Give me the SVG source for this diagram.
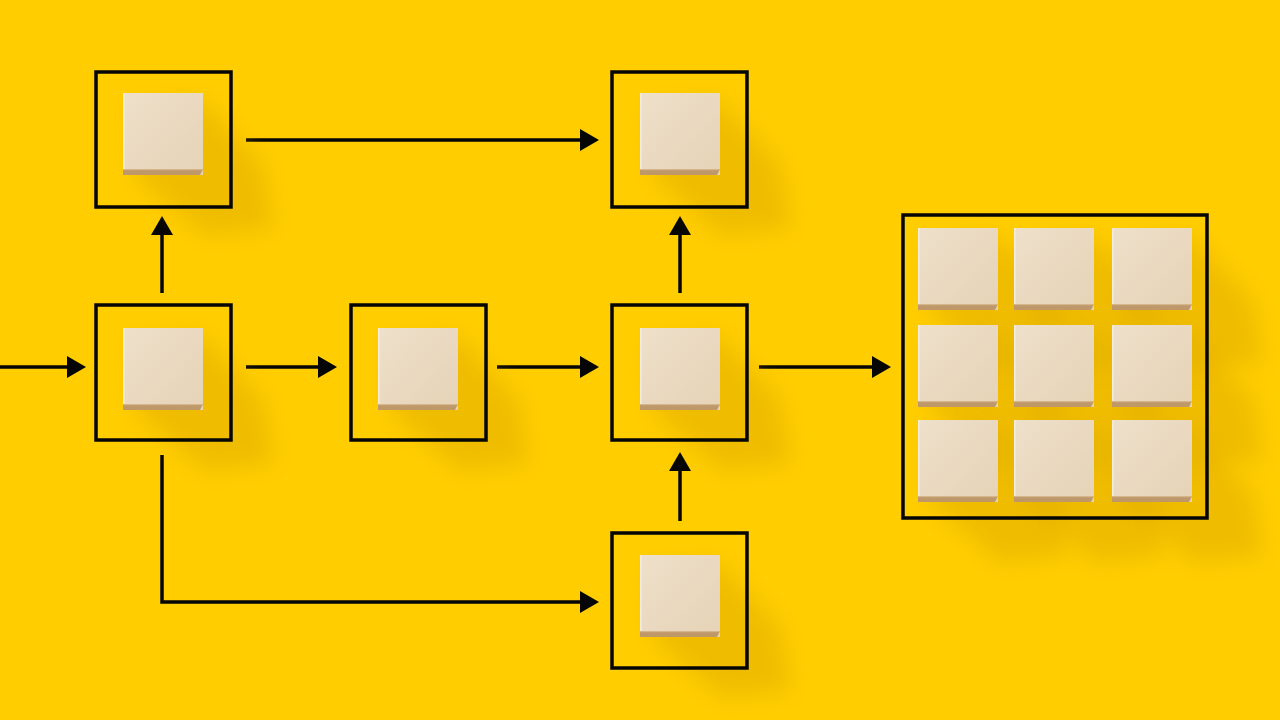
<svg xmlns="http://www.w3.org/2000/svg" xmlns:xlink="http://www.w3.org/1999/xlink" width="1280" height="720" viewBox="0 0 1280 720">
<defs>
<style>
.frame{fill:none;stroke:#050505;stroke-width:3.5}
.conn{fill:none;stroke:#050505;stroke-width:3.5}
.shadow{fill:#DCA800;opacity:0.45;filter:url(#blur)}
</style>
<filter id="blur" x="-50%" y="-50%" width="200%" height="200%"><feGaussianBlur stdDeviation="11"/></filter>
<linearGradient id="wood" x1="0" y1="0" x2="1" y2="1">
<stop offset="0" stop-color="#EEE0CA"/>
<stop offset="0.5" stop-color="#EAD9C0"/>
<stop offset="1" stop-color="#E6D3B7"/>
</linearGradient>
<marker id="ah" markerUnits="userSpaceOnUse" markerWidth="22" markerHeight="24" refX="0" refY="11" orient="auto" viewBox="0 0 22 22">
<path d="M0 0 L19 11 L0 22 Z" fill="#050505"/>
</marker>
<g id="block">
<path class="shadow" d="M10 14 L78 8 L140 72 L150 135 L82 142 L14 84 Z"/>
<rect x="0" y="0" width="80" height="82" fill="url(#wood)"/>
<rect x="0" y="0" width="1.5" height="82" fill="#F6EDDF"/>
<path d="M0 76 H80 L77 82 H0 Z" fill="#BE9868"/>
<rect x="0" y="76" width="80" height="1.2" fill="#D4B68D"/>
</g>
</defs>
<rect width="1280" height="720" fill="#FFCD00"/>

<g id="connectors">
<path class="conn" marker-end="url(#ah)" d="M0 367 H67"/>
<path class="conn" marker-end="url(#ah)" d="M246 367 H318"/>
<path class="conn" marker-end="url(#ah)" d="M497 367 H580"/>
<path class="conn" marker-end="url(#ah)" d="M759 367 H872"/>
<path class="conn" marker-end="url(#ah)" d="M246 140 H580"/>
<path class="conn" marker-end="url(#ah)" d="M162 293 V235"/>
<path class="conn" marker-end="url(#ah)" d="M680 293 V235"/>
<path class="conn" marker-end="url(#ah)" d="M680 521 V471"/>
<path class="conn" marker-end="url(#ah)" d="M162 455 V602 H580"/>
</g>

<g id="node-a">
<use xlink:href="#block" x="123" y="93"/>
<rect class="frame" x="96" y="72" width="135" height="135"/>
</g>
<g id="node-b">
<use xlink:href="#block" x="123" y="328"/>
<rect class="frame" x="96" y="305" width="135" height="135"/>
</g>
<g id="node-c">
<use xlink:href="#block" x="378" y="328"/>
<rect class="frame" x="351" y="305" width="135" height="135"/>
</g>
<g id="node-d">
<use xlink:href="#block" x="640" y="93"/>
<rect class="frame" x="612" y="72" width="135" height="135"/>
</g>
<g id="node-e">
<use xlink:href="#block" x="640" y="328"/>
<rect class="frame" x="612" y="305" width="135" height="135"/>
</g>
<g id="node-f">
<use xlink:href="#block" x="640" y="555"/>
<rect class="frame" x="612" y="533" width="135" height="135"/>
</g>
<g id="node-grid">
<use xlink:href="#block" x="918" y="228"/>
<use xlink:href="#block" x="1014" y="228"/>
<use xlink:href="#block" x="1112" y="228"/>
<use xlink:href="#block" x="918" y="325"/>
<use xlink:href="#block" x="1014" y="325"/>
<use xlink:href="#block" x="1112" y="325"/>
<use xlink:href="#block" x="918" y="420"/>
<use xlink:href="#block" x="1014" y="420"/>
<use xlink:href="#block" x="1112" y="420"/>
<rect class="frame" x="903" y="215" width="304" height="303"/>
</g>
</svg>
